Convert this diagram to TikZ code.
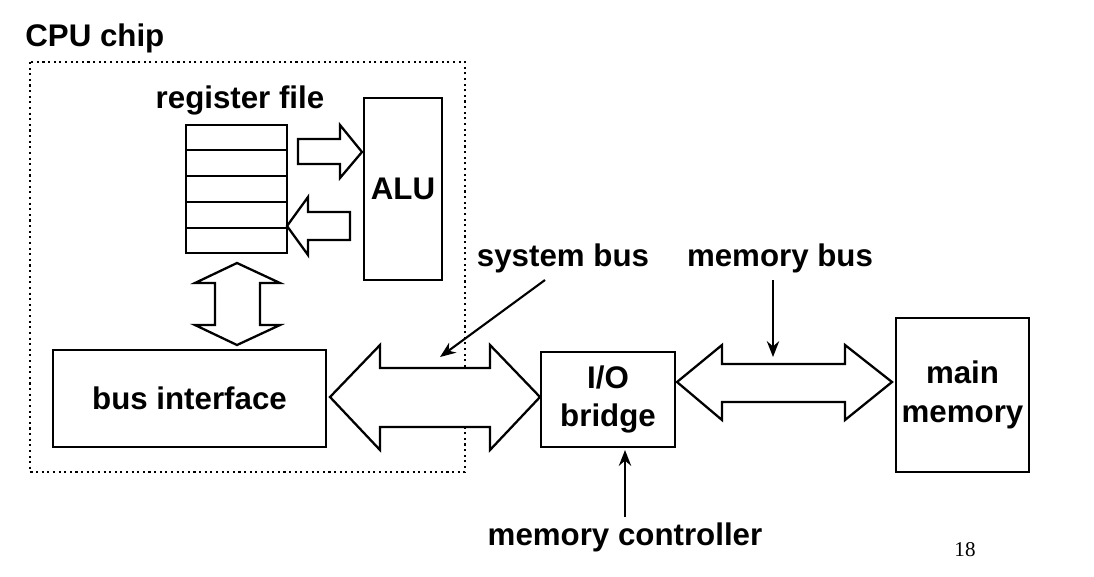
\documentclass[tikz,border=0pt]{standalone}
\usepackage{fontspec}
\setmainfont{Liberation Sans}
\newfontfamily\serifnum{Liberation Serif}
\usetikzlibrary{arrows.meta}
\begin{document}
\begin{tikzpicture}[x=0.02cm,y=-0.02cm,
  box/.style={draw,line width=1.3pt},
  bf/.style={font=\bfseries\fontsize{17.8}{22}\selectfont},
  lbl/.style={bf,inner sep=0pt},
  blk/.style={draw,line width=1.3pt,fill=white,line join=miter},
  ptr/.style={line width=1.2pt,-{Stealth[length=9pt,width=7pt]}}]
\useasboundingbox (0,0) rectangle (1094,576);
\node[lbl,anchor=west] (cpu) at (25,38) {CPU chip};
\draw[dotted,line width=1.2pt] (30,62) rectangle (465,472);
\node[lbl] (rf) at (240,100) {register file};
\node[box,minimum width=101*0.02cm,minimum height=128*0.02cm,inner sep=0pt] (reg) at (236.5,189) {};
\foreach \yy in {150,176,202,228} \draw[line width=1.3pt] (186,\yy) -- (287,\yy);
\node[box,bf,minimum width=78*0.02cm,minimum height=182*0.02cm,inner sep=0pt] (alu) at (403,189) {ALU};
\draw[blk] (298,139) -- (340,139) -- (340,125) -- (362,152) -- (340,178) -- (340,164) -- (298,164) -- cycle;
\draw[blk] (350,212) -- (308,212) -- (308,197) -- (287,226) -- (308,255) -- (308,240) -- (350,240) -- cycle;
\draw[blk] (237,263) -- (280,283) -- (260,283) -- (260,325) -- (280,325) -- (237,345) -- (195,325) -- (215,325) -- (215,283) -- (195,283) -- cycle;
\node[box,bf,minimum width=273*0.02cm,minimum height=97*0.02cm,inner sep=0pt] (bi) at (189.5,398.5) {bus interface};
\draw[blk] (330,397) -- (380,345) -- (380,368) -- (490,368) -- (490,345) -- (540,397) -- (490,450) -- (490,427) -- (380,427) -- (380,450) -- cycle;
\node[box,bf,minimum width=134*0.02cm,minimum height=95*0.02cm,inner sep=0pt,align=center] (io) at (608,399.5) {I/O\\bridge};
\draw[blk] (677,382) -- (722,345) -- (722,364) -- (845,364) -- (845,345) -- (892,382) -- (845,420) -- (845,402) -- (722,402) -- (722,420) -- cycle;
\node[box,bf,minimum width=133*0.02cm,minimum height=154*0.02cm,inner sep=0pt,align=center] (mm) at (962.5,395) {main\\memory};
\node[lbl] (sb) at (563,258) {system bus};
\coordinate (sbt) at (440,357);
\draw[ptr] (545,280) -- (sbt);
\node[lbl] (mb) at (780,258) {memory bus};
\coordinate (mbt) at (773,357);
\draw[ptr] (773,280) -- (mbt);
\node[lbl] (mc) at (625,537) {memory controller};
\coordinate (mct) at (625,450);
\draw[ptr] (625,517) -- (mct);
\node[font=\fontsize{12}{14}\selectfont\serifnum] (pg) at (965,550) {18};
\end{tikzpicture}
\end{document}
